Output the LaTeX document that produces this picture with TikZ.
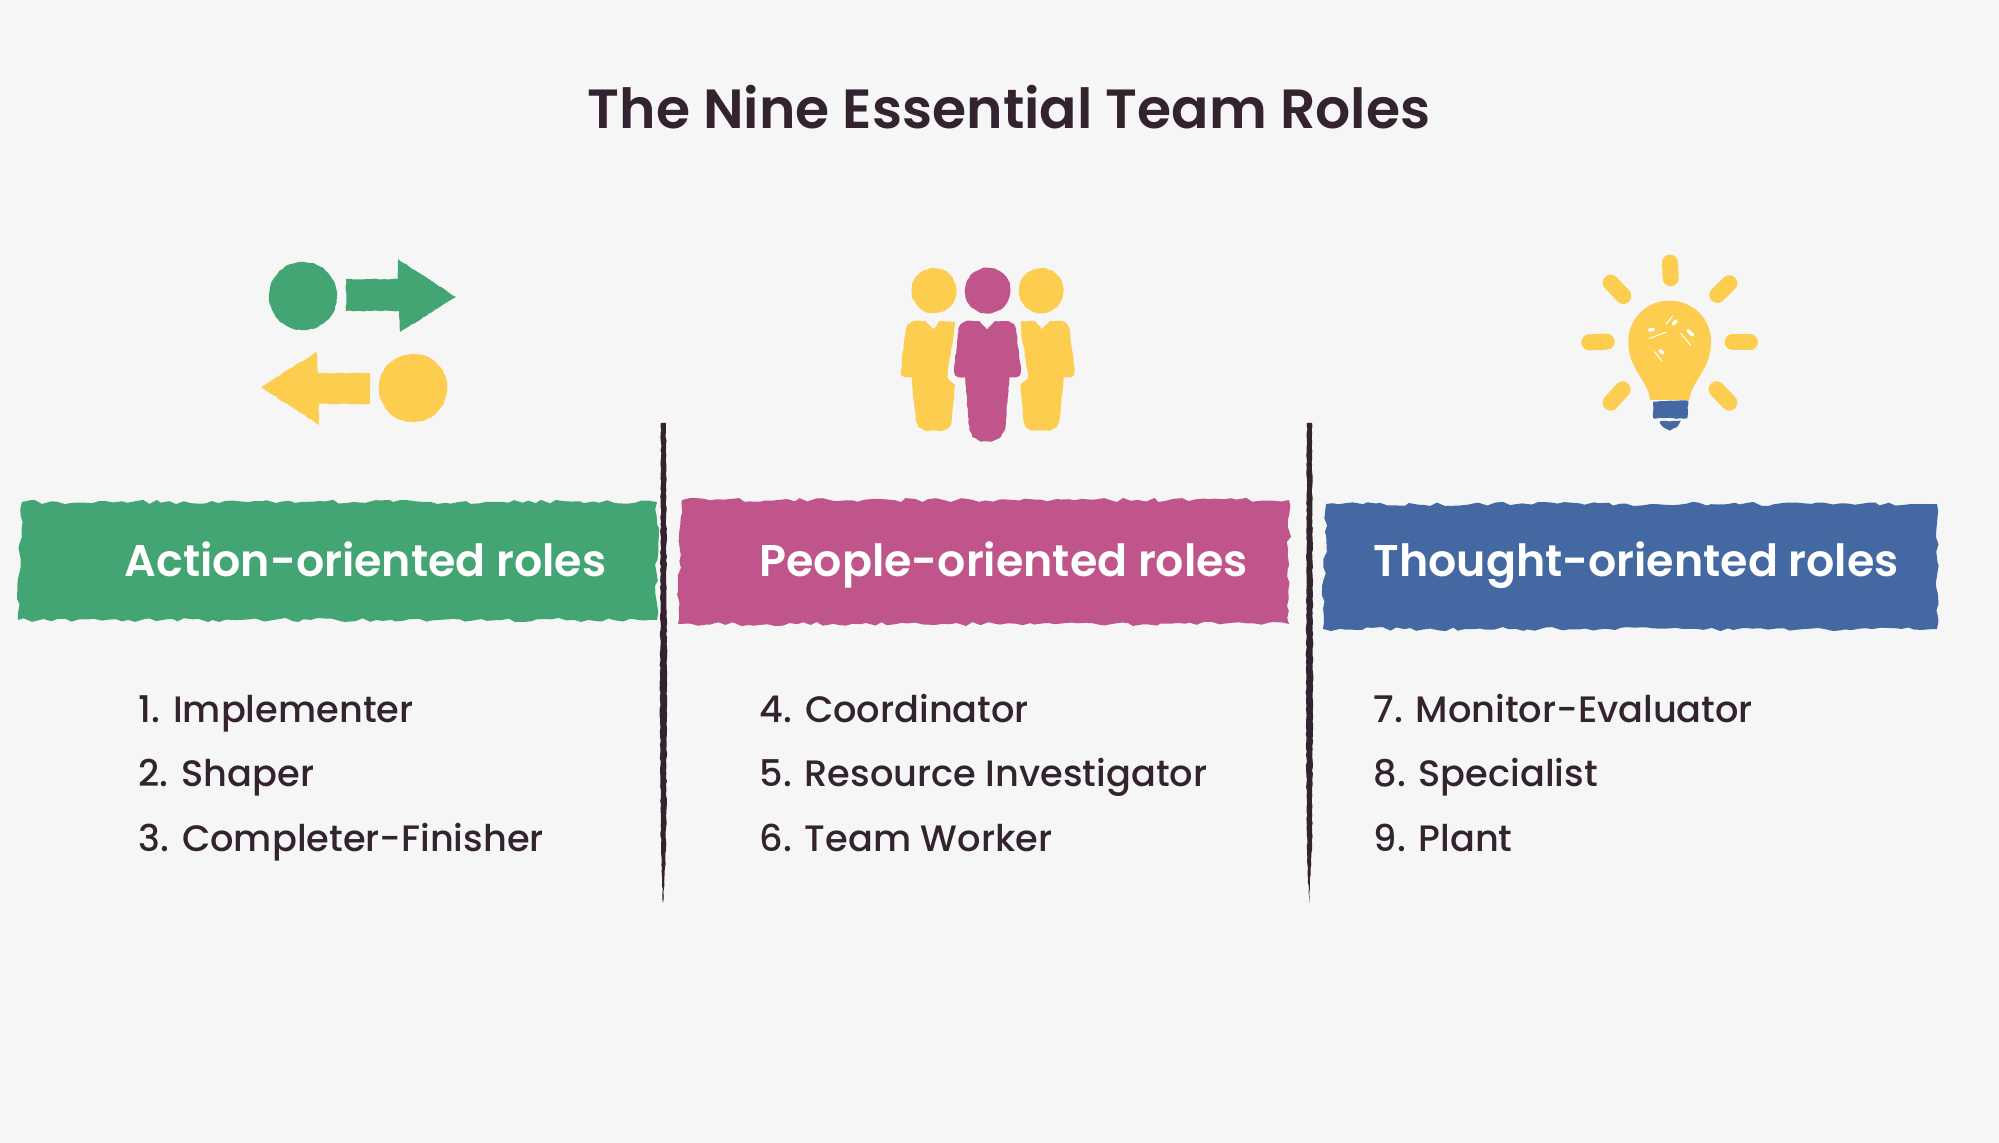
\documentclass[tikz,border=0pt]{standalone}
\usepackage{fontspec}
\setmainfont{Poppins}[UprightFont = * Medium, BoldFont = * SemiBold]
\usetikzlibrary{decorations.pathmorphing}
\definecolor{bgcol}{HTML}{F6F6F6}
\definecolor{inkcol}{HTML}{33232F}
\definecolor{greencol}{HTML}{44A574}
\definecolor{pinkcol}{HTML}{C0558C}
\definecolor{bluecol}{HTML}{4469A2}
\definecolor{yellowcol}{HTML}{FDCD4F}
\tikzset{
  rough/.style = {decorate, decoration = {random steps, segment length = 1pt, amplitude = 0.15pt}},
  torn/.style = {decorate, decoration = {random steps, segment length = 2pt, amplitude = 0.6pt}},
  ray/.style = {draw = yellowcol, line width = 0.16cm, line cap = round},
  spark/.style = {draw = white, line width = 0.3pt, line cap = round},
  titletext/.style = {text = inkcol, inner sep = 0pt, anchor = base west, font = \fontsize{15.7}{20}\selectfont\bfseries},
  bannertext/.style = {text = white, inner sep = 0pt, anchor = base west, font = \fontsize{12.6}{16}\selectfont\bfseries},
  roletext/.style = {text = inkcol, inner sep = 0pt, anchor = base west, font = \fontsize{10.45}{14}\selectfont},
}
\begin{document}
\pgfmathsetseed{42}
\begin{tikzpicture}[x = 0.01cm, y = -0.01cm]
\useasboundingbox (0,0) rectangle (1999,1143);
\fill [bgcol] (0,0) rectangle (1999,1143);
%% title
\node (title) [titletext] at (587,129) {The Nine Essential Team Roles};
%% arrows and circles
\fill [greencol, rough] (303,296) circle [radius=34];
\fill [greencol, rough] (346,279) -- (398,279) -- (398,259) -- (456,297) -- (400,332) -- (399,311) -- (346,311) -- cycle;
\fill [yellowcol, rough] (413,388) circle [radius=34];
\fill [yellowcol, rough] (370,373) -- (318,373) -- (317,352) -- (261,387) -- (319,425) -- (319,404) -- (370,404) -- cycle;
%% people
\begin{scope}[shift = {(880,250)}, scale = 0.3333]
\fill [yellowcol, rough] (162,122) circle [radius=67];
\fill [yellowcol, rough] (484,122) circle [radius=67];
\fill [pinkcol, rough] (323,122) circle [radius=68];
\fill [yellowcol, rough] (160,238) -- (135,213) -- (100,213) -- (84,222) -- (78,235) -- (62,365) -- (64,376) -- (75,382) -- (95,382) -- (108,515) -- (115,532) -- (135,542) -- (190,542) -- (208,532) -- (215,515) -- (225,405) -- (203,385) -- (203,365) -- (220,265) -- (225,215) -- (180,213) -- cycle;
\fill [yellowcol, rough] (486,238) -- (511,213) -- (546,213) -- (562,222) -- (568,235) -- (584,365) -- (582,376) -- (571,382) -- (551,382) -- (538,515) -- (531,532) -- (511,542) -- (456,542) -- (438,532) -- (431,515) -- (421,405) -- (443,385) -- (443,365) -- (426,265) -- (421,215) -- (466,213) -- cycle;
\fill [pinkcol, rough] (321,238) -- (298,213) -- (258,213) -- (242,222) -- (235,235) -- (222,365) -- (225,376) -- (235,382) -- (255,382) -- (268,540) -- (278,562) -- (303,575) -- (335,575) -- (362,562) -- (375,540) -- (388,382) -- (410,382) -- (420,376) -- (423,365) -- (408,235) -- (402,222) -- (385,213) -- (345,213) -- cycle;
\end{scope}
%% light bulb
\begin{scope}[shift = {(1570,240)}, scale = 0.3333]
\draw [ray] (300,68) -- (302,115);
\draw [ray] (478,130) -- (442,165);
\draw [ray] (122,128) -- (160,168);
\draw [ray] (58,307) -- (110,305);
\draw [ray] (488,307) -- (540,307);
\draw [ray] (122,488) -- (158,448);
\draw [ray] (440,448) -- (478,488);
\fill [yellowcol] (240,480) .. controls (235,420) and (175,390) .. (175,305) .. controls (175,235) and (230,182) .. (298,182) .. controls (368,182) and (423,235) .. (423,305) .. controls (423,390) and (365,420) .. (358,480) -- cycle;
\fill [bluecol, rough] (250,485) -- (355,482) -- (352,535) -- (250,535) -- cycle;
\fill [bluecol, rough] (268,545) -- (332,542) -- (320,562) -- (300,572) -- (280,562) -- cycle;
\draw [spark] (238,295) -- (288,277);
\draw [spark] (288,253) -- (308,228);
\draw [spark] (332,280) -- (362,316);
\draw [spark] (254,335) -- (275,362);
\draw [spark, line width = 1pt] (238,270) -- (250,268);
\draw [spark, line width = 1pt] (310,252) -- (318,243);
\draw [spark, line width = 1pt] (354,272) -- (368,285);
\draw [spark, line width = 1pt] (270,332) -- (278,338);
\end{scope}
%% banners
\fill [greencol, torn] (22,502) -- (657,502) -- (657,620) -- (18,620) -- cycle;
\fill [pinkcol, torn] (682,500) -- (1289,500) -- (1289,624) -- (678,624) -- cycle;
\fill [bluecol, torn] (1326,504) -- (1937,504) -- (1937,629) -- (1323,629) -- cycle;
\node (actionlabel) [bannertext] at (124,577) {Action-oriented roles};
\node (peoplelabel) [bannertext] at (759,577) {People-oriented roles};
\node (thoughtlabel) [bannertext] at (1373,577) {Thought-oriented roles};
%% dividers
\fill [inkcol, rough] (661,423) -- (666,423) -- (667,700) -- (666,850) -- (663,903) -- (661,850) -- (660,700) -- cycle;
\fill [inkcol, rough] (1307,423) -- (1312,423) -- (1313,700) -- (1312,850) -- (1309,903) -- (1307,850) -- (1306,700) -- cycle;
%% role lists
\node (roleone) [roletext] at (138,723) {1. Implementer};
\node (roletwo) [roletext] at (138,787) {2. Shaper};
\node (rolethree) [roletext] at (138,852) {3. Completer-Finisher};
\node (rolefour) [roletext] at (759,723) {4. Coordinator};
\node (rolefive) [roletext] at (759,787) {5. Resource Investigator};
\node (rolesix) [roletext] at (759,852) {6. Team Worker};
\node (roleseven) [roletext] at (1373,723) {7. Monitor-Evaluator};
\node (roleeight) [roletext] at (1373,787) {8. Specialist};
\node (rolenine) [roletext] at (1373,852) {9. Plant};
\end{tikzpicture}
\end{document}
